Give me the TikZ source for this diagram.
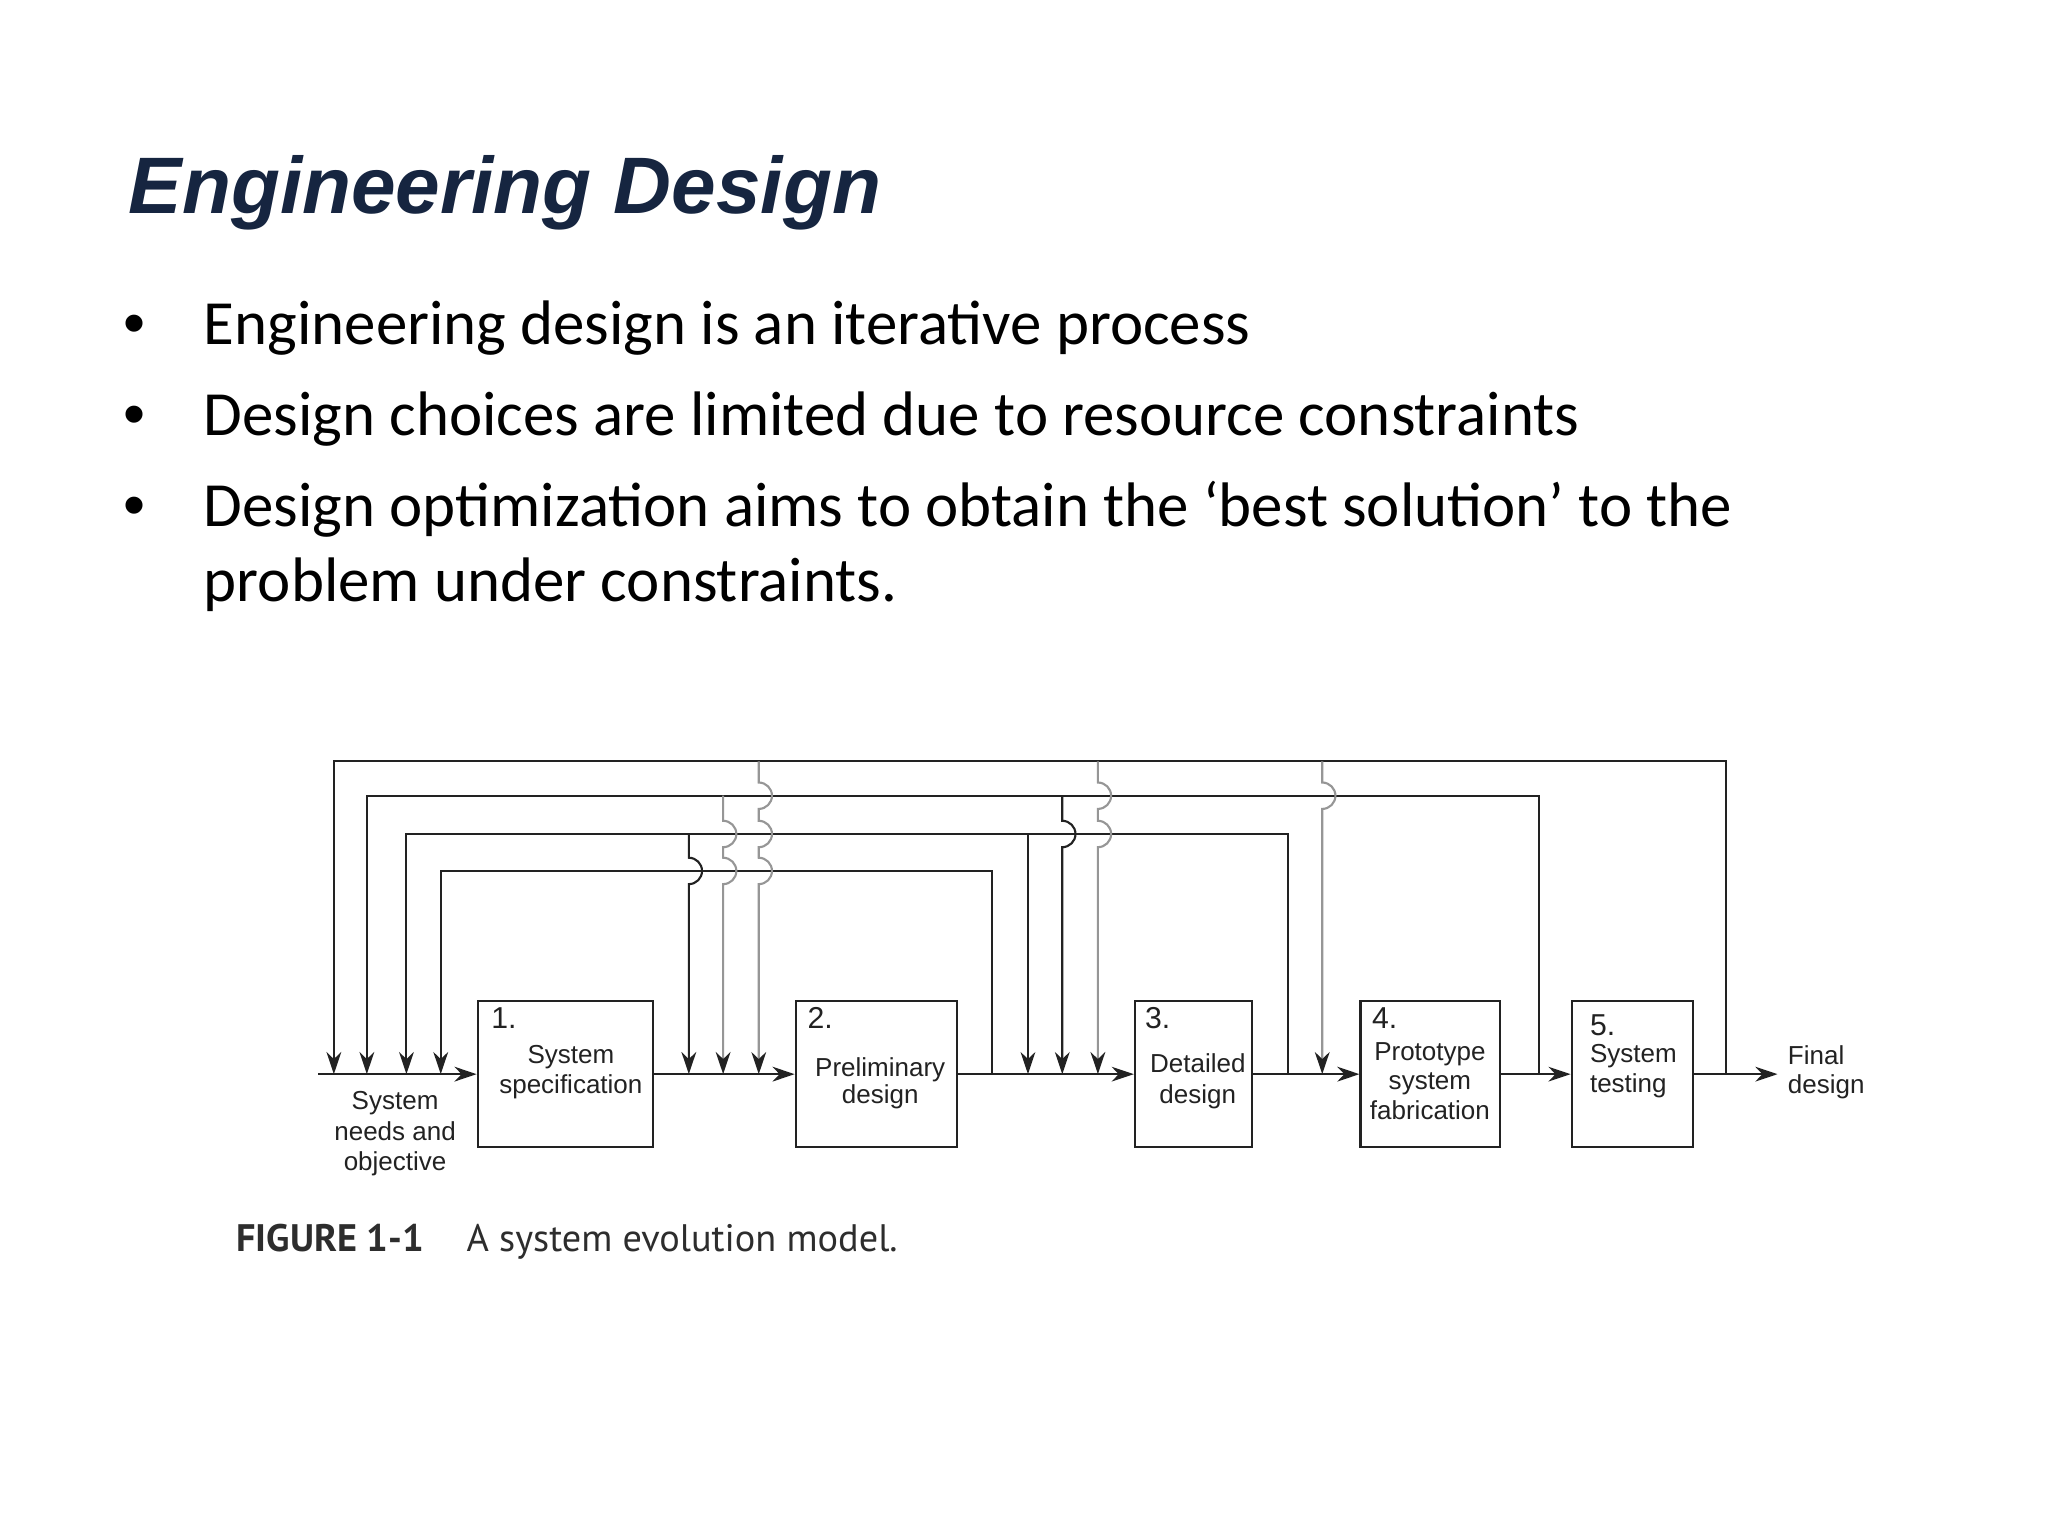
\documentclass[tikz,border=0pt]{standalone}
\usepackage{fontspec}
\setmainfont{Liberation Sans}
\newfontfamily\bodyfont{Carlito}
\newfontfamily\capfont{PT Sans}
\usetikzlibrary{arrows.meta}
\definecolor{titleblue}{RGB}{22,37,64}
\definecolor{ink}{RGB}{34,34,34}
\definecolor{greyink}{RGB}{150,150,150}
\definecolor{capink}{RGB}{45,45,45}
\begin{document}
\begin{tikzpicture}[x=0.013196cm,y=-0.013196cm,
  line/.style={draw=ink, line width=0.6pt},
  tipstyle/.style={-{Stealth[length=6.3pt,width=4.2pt,inset=2pt,color=ink]}},
  flow/.style={line, tipstyle},
  flowgrey/.style={draw=greyink, line width=0.6pt, tipstyle},
  box/.style={draw=ink, line width=0.6pt, inner sep=0pt, minimum height=1.4648cm},
  txt/.style={font=\fontsize{7.4}{8.5}\selectfont, text=ink, inner sep=0pt, anchor=base},
  txtl/.style={txt, anchor=base west},
  num/.style={font=\fontsize{8.6}{10}\selectfont, text=ink, inner sep=0pt, anchor=base west},
  bullettxt/.style={font=\bodyfont\fontsize{17.9}{21}\selectfont, text=black, inner sep=0pt, anchor=base west},
  bulletdot/.style={font=\fontsize{17.9}{21}\selectfont, text=black, inner sep=0pt, anchor=base}]
\fill[white] (0,0) rectangle (1552,1164);
\useasboundingbox (0,0) rectangle (1552,1164);

% Title
\node[anchor=base west, inner sep=0pt, text=titleblue,
  font=\fontsize{22.8}{27}\selectfont\bfseries\itshape] (title) at (97,162) {Engineering Design};

% Bullets
\node[bulletdot] (d1) at (102,261) {•};
\node[bullettxt] (t1) at (154,261) {Engineering design is an iterative process};
\node[bulletdot] (d2) at (102,330) {•};
\node[bullettxt] (t2) at (154,330) {Design choices are limited due to resource constraints};
\node[bulletdot] (d3) at (102,399) {•};
\node[bullettxt] (t3) at (154,399) {Design optimization aims to obtain the ‘best solution’ to the};
\node[bullettxt] (t4) at (154,456) {problem under constraints.};

% Boxes
\node[box, minimum width=1.7551cm] (b1) at (428.5,814) {};
\node[box, minimum width=1.6099cm] (b2) at (664,814) {};
\node[box, minimum width=1.1744cm] (b3) at (904.5,814) {};
\node[box, minimum width=1.3988cm] (b4) at (1084,814) {};
\node[box, minimum width=1.2140cm] (b5) at (1237,814) {};

% Box texts
\node[num] (n1) at (371.8,779.4) {1.};
\node[num] (n2) at (611.4,779.4) {2.};
\node[num] (n3) at (867.3,779.4) {3.};
\node[num] (n4) at (1039.2,779.4) {4.};
\node[num] (n5) at (1204.4,785) {5.};
\node[txt] (s1a) at (432.6,805.7) {System};
\node[txt] (s1b) at (432.6,828.7) {specification};
\node[txt] (s2a) at (667,815.4) {Preliminary};
\node[txt] (s2b) at (667,836.5) {design};
\node[txt] (s3a) at (907.7,813) {Detailed};
\node[txt] (s3b) at (907.7,836) {design};
\node[txt] (s4a) at (1083.6,804) {Prototype};
\node[txt] (s4b) at (1083.6,826) {system};
\node[txt] (s4c) at (1083.6,848) {fabrication};
\node[txtl] (s5a) at (1204.4,805) {System};
\node[txtl] (s5b) at (1204.4,828) {testing};
\node[txtl] (fa) at (1354.4,806.5) {Final};
\node[txtl] (fb) at (1354.4,829) {design};
\node[txt] (ia) at (299.4,840.7) {System};
\node[txt] (ib) at (299.4,864.4) {needs and};
\node[txt] (ic) at (299.4,887) {objective};

% Main flow
\coordinate (in) at (241,814);
\coordinate (out) at (1347,814);
\draw[flow] (in) -- (b1);
\draw[flow] (b1) -- (b2);
\draw[flow] (b2) -- (b3);
\draw[flow] (b3) -- (b4);
\draw[flow] (b4) -- (b5);
\draw[flow] (b5) -- (out);

% Feedback loops
\coordinate (f4s) at (752,814); \coordinate (f4a) at (752,660); \coordinate (f4b) at (334,660); \coordinate (f4e) at (334,814);
\coordinate (f3s) at (976,814); \coordinate (f3a) at (976,632); \coordinate (f3b) at (308,632); \coordinate (f3e) at (308,814);
\coordinate (f2s) at (1166,814); \coordinate (f2a) at (1166,603); \coordinate (f2b) at (278,603); \coordinate (f2e) at (278,814);
\coordinate (f1s) at (1308,814); \coordinate (f1a) at (1308,577); \coordinate (f1b) at (253,577); \coordinate (f1e) at (253,814);
\draw[flow] (f4s) -- (f4a) -- (f4b) -- (f4e);
\draw[flow] (f3s) -- (f3a) -- (f3b) -- (f3e);
\draw[flow] (f2s) -- (f2a) -- (f2b) -- (f2e);
\draw[flow] (f1s) -- (f1a) -- (f1b) -- (f1e);

% Branches into the main line
\coordinate (g1s) at (522,632); \coordinate (g1e) at (522,814);
\coordinate (g2s) at (548,603); \coordinate (g2e) at (548,814);
\coordinate (g3s) at (575,577); \coordinate (g3e) at (575,814);
\coordinate (h1s) at (779,632); \coordinate (h1e) at (779,814);
\coordinate (h2s) at (805,603); \coordinate (h2e) at (805,814);
\coordinate (h3s) at (832,577); \coordinate (h3e) at (832,814);
\coordinate (k1s) at (1002,577); \coordinate (k1e) at (1002,814);

\draw[flow] (g1s) -- ++(0,18) arc[start angle=-90,end angle=90,radius=10] -- (g1e);
\draw[flowgrey] (g2s) -- ++(0,19) arc[start angle=-90,end angle=90,radius=10]
   -- ++(0,8) arc[start angle=-90,end angle=90,radius=10] -- (g2e);
\draw[flowgrey] (g3s) -- ++(0,16) arc[start angle=-90,end angle=90,radius=10]
   -- ++(0,9) arc[start angle=-90,end angle=90,radius=10]
   -- ++(0,8) arc[start angle=-90,end angle=90,radius=10] -- (g3e);
\draw[flow] (h1s) -- (h1e);
\draw[flow] (h2s) -- ++(0,19) arc[start angle=-90,end angle=90,radius=10] -- (h2e);
\draw[flowgrey] (h3s) -- ++(0,16) arc[start angle=-90,end angle=90,radius=10]
   -- ++(0,9) arc[start angle=-90,end angle=90,radius=10] -- (h3e);
\draw[flowgrey] (k1s) -- ++(0,16) arc[start angle=-90,end angle=90,radius=10] -- (k1e);

% Caption
\node[anchor=base west, inner sep=0pt, text=capink, font=\capfont\bfseries\fontsize{10.9}{13}\selectfont] (capa) at (178.6,948.3) {FIGURE 1-1};
\node[anchor=base west, inner sep=0pt, text=capink, font=\capfont\fontsize{10.9}{13}\selectfont] (capb) at (353,948.3) {A system evolution model.};
\end{tikzpicture}
\end{document}
